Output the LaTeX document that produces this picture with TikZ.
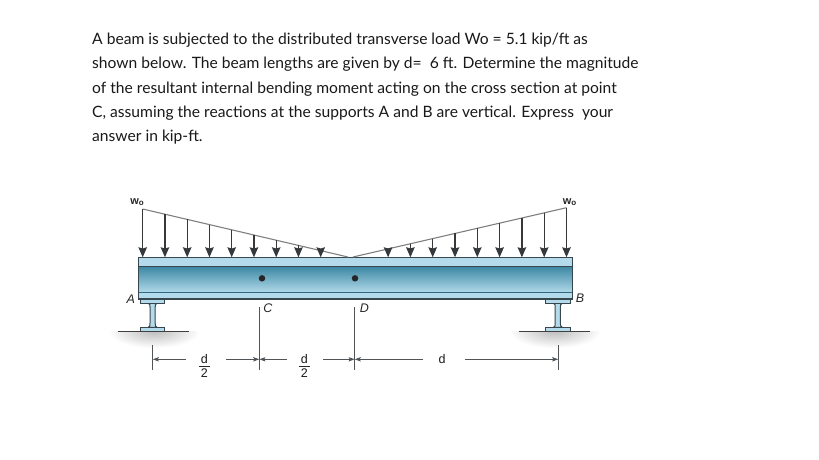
\documentclass[tikz,border=0pt]{standalone}
\usepackage{fontspec}
\setmainfont{Lato}
\newfontfamily\lab{Liberation Sans}
\usetikzlibrary{arrows.meta,calc}
\definecolor{bandlight}{HTML}{B4DBEB}
\definecolor{bandmid}{HTML}{3A86A2}
\definecolor{bandlow}{HTML}{B0D8E8}
\definecolor{edge}{HTML}{38464E}
\definecolor{arrowc}{HTML}{35393C}
\definecolor{dimc}{HTML}{505457}
\tikzset{
  para/.style={anchor=base west,inner sep=0pt,font=\fontsize{15.62}{15.62}\selectfont,text=black!90},
  loadarrow/.style={draw=arrowc,line width=1.3pt,-{Stealth[length=10pt,width=8.5pt,inset=1.2pt]},shorten >=-0.5pt},
  loadline/.style={draw=black!50,line width=1.1pt},
  dimline/.style={draw=dimc,line width=1.1pt},
  dimarrow/.style={draw=dimc,line width=1.1pt,-{Stealth[length=6pt,width=4.2pt,inset=1pt]}},
  pt/.style={inner sep=0pt,font=\lab\itshape\fontsize{12.5}{12.5}\selectfont,text=black!85},
  dl/.style={inner sep=0pt,font=\lab\fontsize{12.5}{12.5}\selectfont,text=black!90},
  wl/.style={inner sep=0pt,font=\lab\bfseries\fontsize{11}{11}\selectfont,text=black!85},
  flange/.style={fill=bandlight,draw=edge,line width=1pt},
  dotpt/.style={circle,fill=black!85,inner sep=0pt,minimum size=6.5pt},
  ground/.style={draw=black!75,line width=1pt}
}
\begin{document}
\begin{tikzpicture}[x=1pt,y=-1pt]
\useasboundingbox (0,0) rectangle (819,460);
\fill[white] (0,0) rectangle (819,460);
% text
\node[para] (t1) at (92,44.5) {A beam is subjected to the distributed transverse load Wo = 5.1 kip/ft as};
\node[para] (t2) at (92,69) {shown below. The beam lengths are given by d=\ \ 6 ft. Determine the magnitude};
\node[para] (t3) at (92,93) {of the resultant internal bending moment acting on the cross section at point};
\node[para] (t4) at (92,117.5) {C, assuming the reactions at the supports A and B are vertical. Express\ \ your};
\node[para] (t5) at (92,141.5) {answer in kip-ft.};
% ground shadows
\foreach \cx/\nm in {154/ga,555/gb}{
  \begin{scope}
    \clip (\cx-44,331) rectangle (\cx+44,352);
    \shade[inner color=black!26,outer color=white] (\cx,331) ellipse [x radius=46,y radius=17];
  \end{scope}
}
% beam
\shade[top color=bandmid,bottom color=bandlow] (138.3,266) rectangle (572.7,292);
\fill[bandlight] (138.3,257.3) rectangle (572.7,266);
\fill[bandlight] (138.3,292) rectangle (572.7,299);
\draw[draw=bandmid!80!black,line width=1pt] (138.3,292) -- (572.7,292);
\draw[draw=edge,line width=1pt] (138.3,266) -- (572.7,266);
\node[draw=edge,line width=1.3pt,minimum width=434.4pt,minimum height=41.7pt,inner sep=0pt] (beam) at (355.5,278.2) {};
\node[dotpt] (c) at (262,278.3) {};
\node[dotpt] (d) at (355,278.3) {};
% supports
\foreach \cx/\hw/\wb in {152.6/11.7/2.6,557.8/12.3/2.6}{
  \draw[flange] (\cx-\wb-1.8,303.3) .. controls (\cx-\wb,304) and (\cx-\wb,305) .. (\cx-\wb,307) -- (\cx-\wb,323) .. controls (\cx-\wb,325.5) and (\cx-\wb,326.5) .. (\cx-\wb-1.8,327.3)
     -- (\cx+\wb+1.8,327.3) .. controls (\cx+\wb,326.5) and (\cx+\wb,325.5) .. (\cx+\wb,323) -- (\cx+\wb,307) .. controls (\cx+\wb,305) and (\cx+\wb,304) .. (\cx+\wb+1.8,303.3) -- cycle;
  \draw[flange] (\cx-\hw,299.5) rectangle (\cx+\hw,303.5);
  \draw[flange] (\cx-\hw,327.3) rectangle (\cx+\hw,331);
}
\coordinate (gal) at (118,331); \coordinate (gar) at (189,331);
\coordinate (gbl) at (519,331); \coordinate (gbr) at (590,331);
\draw[ground] (gal) -- (gar);
\draw[ground] (gbl) -- (gbr);
% distributed load
\coordinate (wa) at (142.7,209);
\coordinate (wae) at (348,257);
\coordinate (wb) at (566.5,207.7);
\coordinate (wbe) at (353,257);
\coordinate (top) at (0,256.8);
\draw[loadline] (wa) -- (wae);
\draw[loadline] (wb) -- (wbe);
\foreach \i in {0,...,8}{
  \pgfmathsetmacro{\ta}{\i*22.25/205.3}
  \pgfmathsetmacro{\tb}{\i*22.3/213.5}
  \coordinate (la\i) at ($(wa)!\ta!(wae)$);
  \coordinate (lb\i) at ($(wb)!\tb!(wbe)$);
  \draw[loadarrow] (la\i) -- (la\i |- top);
  \draw[loadarrow] (lb\i) -- (lb\i |- top);
}
\node[wl] (w1) at (137,202) {w\raisebox{-1.5pt}{\fontsize{8}{8}\selectfont o}};
\node[wl] (w2) at (569.5,202) {w\raisebox{-1.5pt}{\fontsize{8}{8}\selectfont o}};
% point labels
\node[pt] (A) at (130.7,299) {A};
\node[pt] (B) at (580,298.5) {B};
\node[pt] (C) at (268,308) {C};
\node[pt] (D) at (364.3,308) {D};
% dimension ticks
\coordinate (ta1) at (152.7,345); \coordinate (ta2) at (152.7,370);
\coordinate (tc1) at (259.3,307); \coordinate (tc2) at (259.3,370);
\coordinate (td1) at (354.7,307); \coordinate (td2) at (354.7,370);
\coordinate (tb1) at (558.3,345); \coordinate (tb2) at (558.3,370);
\draw[dimline] (ta1) -- (ta2);
\draw[dimline] (tc1) -- (tc2);
\draw[dimline] (td1) -- (td2);
\draw[dimline] (tb1) -- (tb2);
% dimension arrows
\coordinate (da) at (152.7,359.3); \coordinate (dc) at (259.3,359.3);
\coordinate (dd) at (354.7,359.3); \coordinate (db) at (558.3,359.3);
\coordinate (e1) at (186,359.3); \coordinate (e2) at (226,359.3);
\coordinate (e3) at (287,359.3); \coordinate (e4) at (323,359.3);
\coordinate (e5) at (423,359.3); \coordinate (e6) at (465,359.3);
\draw[dimarrow] (e1) -- (da);
\draw[dimarrow] (e2) -- (dc);
\draw[dimarrow] (e3) -- (dc);
\draw[dimarrow] (e4) -- (dd);
\draw[dimarrow] (e5) -- (dd);
\draw[dimarrow] (e6) -- (db);
% dimension labels
\node[dl] (d1) at (204.3,359) {d};
\node[dl] (f1) at (204.3,373.5) {2};
\draw[draw=black!85,line width=0.9pt] ($(d1)+(-5.5,7)$) coordinate (b1a) -- ($(d1)+(5.5,7)$) coordinate (b1b);
\node[dl] (d2) at (304.3,359) {d};
\node[dl] (f2) at (304.3,373.5) {2};
\draw[draw=black!85,line width=0.9pt] ($(d2)+(-5.5,7)$) coordinate (b2a) -- ($(d2)+(5.5,7)$) coordinate (b2b);
\node[dl] (d3) at (442,359) {d};
\end{tikzpicture}
\end{document}
